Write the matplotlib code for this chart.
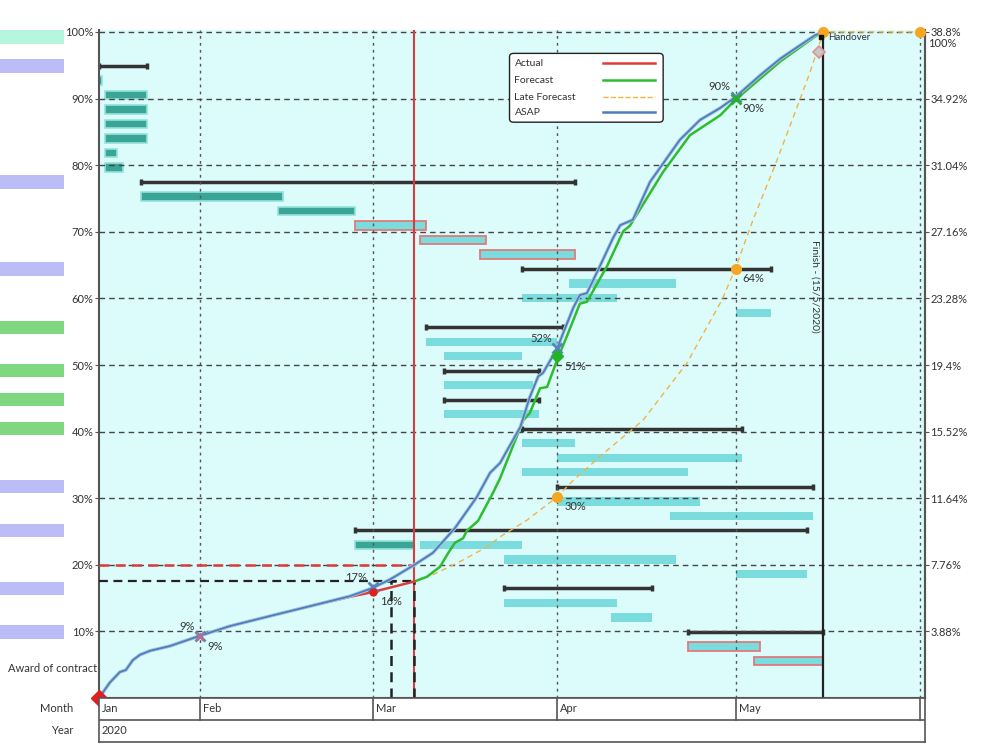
import matplotlib
matplotlib.use("Agg")
import matplotlib.pyplot as plt
import matplotlib.dates as mdates
import matplotlib.patheffects as pe
from matplotlib.patches import FancyBboxPatch
from matplotlib.ticker import FuncFormatter, FixedLocator
from datetime import datetime
import numpy as np

plt.rcParams['font.family'] = ['Lato', 'DejaVu Sans']

START = '2020-01-15'
STATUS = '2020-03-08'
HANDOVER = '2020-05-15 17:00'
END = '2020-06-01'

# progress curves: days after START, percent complete
actual_day = [0, 1.8, 3.5, 4.5, 5.7, 6.9, 8.6, 11.9, 16.8, 22, 28.7, 35.5, 42.2, 45.9, 53]
actual_pct = [0, 2.3, 3.9, 4.2, 5.7, 6.5, 7.1, 7.8, 9.3, 10.8, 12.3, 13.8, 15.2, 15.9, 17.5]

asap_day = [0, 1.8, 3.5, 4.5, 5.7, 6.9, 8.6, 11.9, 16.8, 22, 28.7, 35.5, 42.2, 45.9, 48.9,
            53, 56.1, 59.8, 63.5, 65.7, 67.4, 70.8, 72.4, 73.8, 74.6, 77, 78, 79.7, 80.8, 82,
            84.2, 86.4, 87.6, 89.7, 92.6, 97.6, 101, 104.4, 106.9, 111.1, 114.5, 117.8, 120.3, 121.7]
asap_pct = [0, 2.3, 3.9, 4.2, 5.7, 6.5, 7.1, 7.8, 9.3, 10.8, 12.3, 13.8, 15.3, 16.5, 17.8,
            20.0, 21.8, 25.5, 30.2, 33.8, 35.3, 40.7, 45.2, 48.3, 48.8, 52.5, 54.8, 58.6, 60.5, 60.8,
            64.9, 69.1, 71.0, 71.8, 77.5, 83.8, 86.8, 88.6, 90.2, 93.5, 96.0, 98.0, 99.5, 100]

forecast_day = [53, 55.1, 57.3, 58.7, 59.8, 61.2, 61.8, 63.7, 66.2, 67.4, 69.9, 71.3, 72.4, 74.1,
                75.3, 77, 78.7, 80.8, 82, 85.4, 88.1, 89.2, 94.8, 99.3, 104.4, 106.9, 111.1,
                114.5, 117.8, 120.3, 121.7]
forecast_pct = [17.5, 18.2, 19.7, 21.8, 23.3, 24.0, 25.1, 26.6, 30.8, 33.0, 38.6, 41.7, 42.8, 46.5,
                46.7, 50.8, 54.5, 59.2, 59.5, 64.9, 70.1, 70.9, 79.0, 84.5, 87.5, 89.8, 93.0,
                95.6, 97.7, 99.3, 100]

late_day = [53, 56.1, 60.7, 65.2, 67.4, 71.9, 77, 79.7, 85.4, 91.4, 98.8, 104.7, 106.9, 109.9,
            113.6, 117, 119.5, 121.7, 137.6]
late_pct = [17.5, 18.5, 20.5, 22.7, 24.2, 26.7, 30.2, 32.7, 37.2, 41.7, 50.3, 59.8, 64.4, 71.8,
            80, 88, 94, 100, 100]

# labelled points on the curves
asap_mark_date = ['2020-02-01', '2020-03-01', '2020-04-01', '2020-05-01']
asap_mark_pct = [9.3, 16.6, 52.5, 90.3]
asap_mark_text = ['9%', '17%', '52%', '90%']
actual_mark_date = ['2020-02-01', '2020-03-01']
actual_mark_pct = [9.2, 15.9]
actual_mark_text = ['9%', '16%']
fc_mark_date = ['2020-04-01', '2020-05-01']
fc_mark_pct = [51.3, 90.0]
fc_mark_text = ['51%', '90%']
late_mark_date = ['2020-04-01', '2020-05-01']
late_mark_pct = [30.2, 64.4]
late_mark_text = ['30%', '64%']

# gantt rows (row 0 = top)
summary_row = [0, 8, 14, 18, 21, 23, 25, 29, 32, 36, 39]
summary_start = ['2020-01-15', '2020-01-22', '2020-03-26', '2020-03-10', '2020-03-13', '2020-03-13',
                 '2020-03-26', '2020-04-01', '2020-02-27', '2020-03-23', '2020-04-23']
summary_end = ['2020-01-23', '2020-04-04', '2020-05-07', '2020-04-02', '2020-03-29', '2020-03-29',
               '2020-05-02', '2020-05-14', '2020-05-13', '2020-04-17', HANDOVER]

done_row = [1, 2, 3, 4, 5, 6, 7, 9, 10, 33]
done_start = ['2020-01-15', '2020-01-16', '2020-01-16', '2020-01-16', '2020-01-16', '2020-01-16',
              '2020-01-16', '2020-01-22', '2020-02-14', '2020-02-27']
done_end = ['2020-01-15 12:00', '2020-01-23', '2020-01-23', '2020-01-23', '2020-01-23', '2020-01-18',
            '2020-01-19', '2020-02-15', '2020-02-27', STATUS]

plan_row = [15, 16, 17, 19, 20, 22, 24, 26, 27, 28, 30, 31, 33, 34, 35, 37, 38]
plan_start = ['2020-04-03', '2020-03-26', '2020-05-01', '2020-03-10', '2020-03-13', '2020-03-13',
              '2020-03-13', '2020-03-26', '2020-04-01', '2020-03-26', '2020-04-01', '2020-04-20',
              '2020-03-09', '2020-03-23', '2020-05-01', '2020-03-23', '2020-04-10']
plan_end = ['2020-04-21', '2020-04-11', '2020-05-07', '2020-04-01', '2020-03-26', '2020-03-28',
            '2020-03-29', '2020-04-04', '2020-05-02', '2020-04-23', '2020-04-25', '2020-05-14',
            '2020-03-26', '2020-04-21', '2020-05-13', '2020-04-11', '2020-04-17']

late_row = [11, 12, 13, 40, 41]
late_start = ['2020-02-27', '2020-03-09', '2020-03-19', '2020-04-23', '2020-05-04']
late_end = ['2020-03-10', '2020-03-20', '2020-04-04', '2020-05-05', HANDOVER]

# coloured row headers on the far left
side_row = [-2, 0, 8, 14, 18, 21, 23, 25, 29, 32, 36, 39]
side_kind = ['mint', 'lav', 'lav', 'lav', 'green', 'green', 'green', 'green', 'lav', 'lav', 'lav', 'lav']

pct_ticks = [10, 20, 30, 40, 50, 60, 70, 80, 90, 100]
month_starts = ['2020-02-01', '2020-03-01', '2020-04-01', '2020-05-01', '2020-06-01']
month_labels = ['Jan', 'Feb', 'Mar', 'Apr', 'May']
month_label_at = ['2020-01-15', '2020-02-01', '2020-03-01', '2020-04-01', '2020-05-01']


def d(s):
    return mdates.date2num(datetime.fromisoformat(s))


def row_y(r):
    return 94.9 - 2.179 * np.asarray(r)


x0 = d(START)
status = d(STATUS)
handover = d(HANDOVER)
txt = '#333333'

fig = plt.figure(figsize=(10, 7.5), dpi=100)
ax = fig.add_axes([0.099, 0.0693, 0.826, 0.8907])
ax.set_facecolor('#dcfbfb')
ax.set_xlim(x0, x0 + 138.8)
ax.set_ylim(0, 100.3)
ax.set_axisbelow(False)

# grid
ax.yaxis.set_major_locator(FixedLocator(pct_ticks))
ax.yaxis.set_major_formatter(FuncFormatter(lambda v, _: f'{v:.0f}%'))
ax.set_xticks([d(m) for m in month_starts])
ax.tick_params(axis='x', length=0, labelbottom=False)
ax.tick_params(axis='y', length=3, labelsize=8, labelcolor=txt, color='#555', pad=1)
ax.grid(axis='y', color='#444', ls=(0, (4, 3)), lw=1)
ax.grid(axis='x', color='#555', ls=(0, (2, 3)), lw=1)
ax.spines['top'].set_visible(False)
for sp in ['left', 'right', 'bottom']:
    ax.spines[sp].set_color('#555')
    ax.spines[sp].set_linewidth(1.5)

# gantt bars
def bars(rows, starts, ends, **kw):
    lefts = np.array([d(s) for s in starts])
    widths = np.array([d(e) for e in ends]) - lefts
    ax.barh(row_y(rows), widths, left=lefts, zorder=1, **kw)

bars(plan_row, plan_start, plan_end, height=1.25, color='#7adcdc')
bars(late_row, late_start, late_end, height=1.25, color='#7adcdc', edgecolor='#e07a7a', linewidth=1.3)
bars(done_row, done_start, done_end, height=1.3, color='#3aa596', edgecolor='#92e4da', linewidth=1.2)
for r, s, e in zip(summary_row, summary_start, summary_end):
    ax.plot([d(s), d(e)], [row_y(r)] * 2, color='#333', lw=2.5, marker='|', ms=5, mew=2.5,
            solid_capstyle='butt', zorder=2)

# status / finish lines
ax.axvline(status, color='#d83c3c', lw=1.5, zorder=3)
ax.plot([x0, status], [20, 20], color='#e03a3a', lw=1.8, ls=(0, (4, 2.5)), zorder=3)
ax.plot([x0, status], [17.5, 17.5], color='#222', lw=1.6, ls=(0, (4, 2.5)), zorder=3)
ax.plot([d('2020-03-04')] * 2, [0, 17.5], color='#222', lw=1.8, ls=(0, (4, 2.5)), zorder=3)
ax.plot(d('2020-03-04'), 17.5, marker='_', color='#222', ms=7, mew=1.8, zorder=3)
ax.plot([status] * 2, [0, 17.5], color='#222', lw=1.8, ls=(0, (4, 2.5)), zorder=3)
ax.plot([handover] * 2, [0, 100], color='#222', lw=1.6, zorder=3)
ax.text(handover - 0.6, 68.8, 'Finish - (15/5/2020)', rotation=270, ha='right', va='top',
        fontsize=7.5, color=txt)

# curves
late_line, = ax.plot(x0 + np.array(late_day), late_pct, color='#f2b440', lw=1.0, ls=(0, (4, 3)), zorder=4)
fc_line, = ax.plot(x0 + np.array(forecast_day), forecast_pct, color='#2dbd2d', lw=1.8, zorder=5)
act_line, = ax.plot(x0 + np.array(actual_day), actual_pct, color='#e03a3a', lw=1.8, zorder=5)
asap_line, = ax.plot(x0 + np.array(asap_day), asap_pct, color='#4f7db8', lw=1.3, zorder=6,
                     path_effects=[pe.Stroke(linewidth=2.6, foreground='#a8c8e6'), pe.Normal()])

# markers and their labels
def marks(dates, pcts, texts, where, **kw):
    xs = [d(s) for s in dates]
    ax.plot(xs, pcts, ls='none', zorder=7, **kw)
    off, ha, va = ((-4, 3), 'right', 'bottom') if where == 'ul' else ((5, -3), 'left', 'top')
    for x, y, t in zip(xs, pcts, texts):
        ax.annotate(t, (x, y), xytext=off, textcoords='offset points', ha=ha, va=va,
                    fontsize=8, color=txt, zorder=8)

marks(asap_mark_date, asap_mark_pct, asap_mark_text, 'ul', marker='x', color='#5583bd', ms=7, mew=2)
marks(actual_mark_date[:1], actual_mark_pct[:1], actual_mark_text[:1], 'lr', marker='x', color='#c06a8c', ms=6, mew=1.5)
marks(actual_mark_date[1:], actual_mark_pct[1:], actual_mark_text[1:], 'lr', marker='o', color='#e02020', ms=5)
marks(fc_mark_date[:1], fc_mark_pct[:1], fc_mark_text[:1], 'lr', marker='D', color='#22b522', ms=6)
marks(fc_mark_date[1:], fc_mark_pct[1:], fc_mark_text[1:], 'lr', marker='x', color='#22b522', ms=7, mew=2)
marks(late_mark_date, late_mark_pct, late_mark_text, 'lr', marker='o', color='#f5a623', ms=7)

ax.plot([handover, d(END)], [100, 100], ls='none', marker='o', color='#f5a623', ms=7, zorder=7, clip_on=False)
ax.plot(d('2020-05-14 22:00'), 97, marker='D', mfc='#c8c8c8', mec='#e09090', ms=6, mew=1.2, zorder=7)
ax.plot(handover - 0.4, 99.3, marker='s', color='#111', ms=3, zorder=8)
ax.text(handover + 0.8, 99.2, 'Handover', fontsize=7, va='center', ha='left', color=txt)
ax.plot(x0, 0, marker='D', color='#e02020', ms=8, clip_on=False, zorder=8)
ax.annotate('100%', (1, 100), xycoords=('axes fraction', 'data'), xytext=(2, -8),
            textcoords='offset points', va='center', fontsize=8, color=txt)

# right-hand axis
sec = ax.secondary_yaxis('right', functions=(lambda v: v * 0.388, lambda v: v / 0.388))
sec.set_yticks([v * 0.388 for v in pct_ticks])
sec.yaxis.set_major_formatter(FuncFormatter(lambda v, _: f'{round(v, 2):g}%'))
sec.tick_params(length=3, labelsize=8, labelcolor=txt, color='#555', pad=1)
sec.spines['right'].set_color('#555')
sec.spines['right'].set_linewidth(1.5)

# legend box
ax.add_patch(FancyBboxPatch((0.497, 0.862), 0.186, 0.103, boxstyle='round,pad=0,rounding_size=0.005',
                            transform=ax.transAxes, fc='white', ec='#222', lw=1, zorder=9))
leg_y = [0.9506, 0.925, 0.8997, 0.877]
for y, line, lab in zip(leg_y, [act_line, fc_line, late_line, asap_line],
                        ['Actual', 'Forecast', 'Late Forecast', 'ASAP']):
    ax.text(0.503, y, lab, transform=ax.transAxes, fontsize=7.5, va='center', color=txt, zorder=10)
    solid = line.get_linestyle() == '-'
    ax.plot([0.61, 0.673], [y, y], transform=ax.transAxes, color=line.get_color(),
            lw=1.8 if solid else line.get_linewidth(), ls=line.get_linestyle(), zorder=10)

fig.text(0.097, 1 - 668 / 750, 'Award of contract', ha='right', va='center', fontsize=8, color=txt)

# coloured row headers at the far left
side_colors = {'mint': '#b6f6df', 'lav': '#bcbcf7', 'green': '#7fd880'}
axl = fig.add_axes([0.0, 0.0693, 0.064, 0.8907])
axl.set_ylim(ax.get_ylim())
axl.set_xlim(0, 1)
axl.barh(row_y(side_row), 1, left=0, height=2.0, color=[side_colors[k] for k in side_kind])
axl.axis('off')

# month / year table
axt = fig.add_axes([0.099, 0.0107, 0.826, 0.0587])
axt.set_xlim(ax.get_xlim())
axt.set_ylim(0, 2)
axt.axhline(1, color='#555', lw=1.2)
for m in month_starts:
    axt.plot([d(m)] * 2, [1, 2], color='#555', lw=1.2)
for m, lab in zip(month_label_at, month_labels):
    axt.text(d(m) + 0.5, 1.5, lab, va='center', fontsize=8, color=txt)
axt.text(x0 + 0.5, 0.5, '2020', va='center', fontsize=8, color=txt)
axt.set_xticks([])
axt.set_yticks([])
for sp in axt.spines.values():
    sp.set_color('#555')
    sp.set_linewidth(1.2)
fig.text(0.073, 1 - 709 / 750, 'Month', ha='right', va='center', fontsize=8, color=txt)
fig.text(0.073, 1 - 731 / 750, 'Year', ha='right', va='center', fontsize=8, color=txt)

fig.savefig('out.png', dpi=100)
